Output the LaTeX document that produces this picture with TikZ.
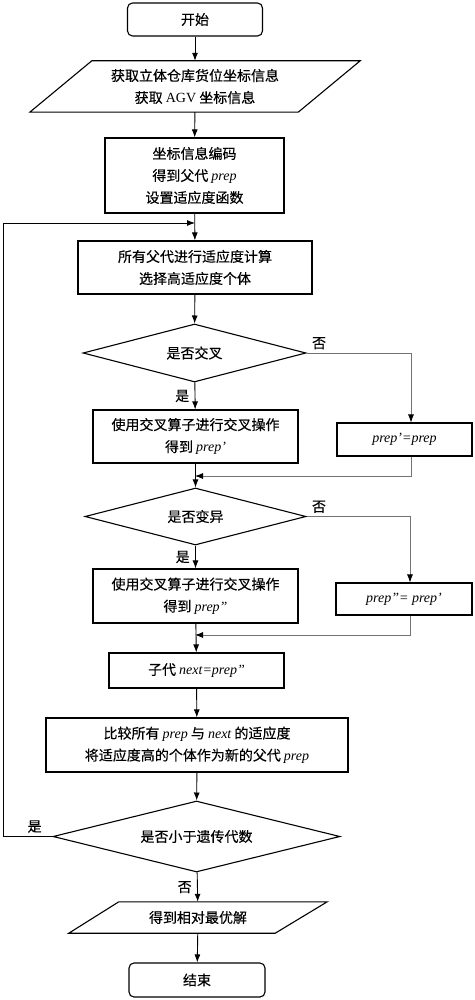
\documentclass[tikz,border=0pt]{standalone}
\usepackage{fontspec}
\setmainfont{Liberation Serif}
\newfontfamily\cjk{Noto Sans CJK SC}[FakeBold=0.3]
\usetikzlibrary{arrows.meta,shapes.geometric}
\newcommand{\var}[1]{{\normalfont\itshape #1}}

\begin{document}
\begin{tikzpicture}[x=1pt, y=-1pt,
  >={Latex[length=8pt,width=6pt]},
  every node/.style={font=\cjk\fontsize{14}{22}\selectfont},
  flow/.style={draw=black, line width=1.1pt},
  terminal/.style={flow, rounded corners=5pt, minimum width=135pt, minimum height=33pt},
  process/.style={flow, align=center, inner sep=2pt},
  io/.style={align=center, inner sep=1pt},
  decision/.style={flow, diamond, aspect=4, inner sep=0pt},
  line/.style={->, line width=0.9pt},
  branch/.style={-{Latex[length=8pt,width=6pt,color=black]}, draw=black!55, line width=0.8pt}
]
\useasboundingbox (0,0) rectangle (474,1000);

% main column
\node[terminal] (start) at (195,19.5) {开始};
\node[io, minimum width=330pt, minimum height=51pt] (input) at (195,86.5)
  {获取立体仓库货位坐标信息\\获取 {\normalfont AGV} 坐标信息};
\node[process, minimum width=179pt, minimum height=75pt] (code) at (194.5,175.5)
  {坐标信息编码\\得到父代 \var{prep}\\设置适应度函数};
\node[process, minimum width=234pt, minimum height=53pt] (fitness) at (195,267.5)
  {所有父代进行适应度计算\\选择高适应度个体};
\node[decision, minimum width=223pt, minimum height=58pt] (cross) at (194.5,353) {是否交叉};
\node[process, minimum width=205pt, minimum height=53pt] (crossop) at (195.5,436.5)
  {使用交叉算子进行交叉操作\\得到 \var{prep'}};
\node[process, minimum width=135pt, minimum height=33pt] (keep1) at (404.5,439.5)
  {\var{prep'=prep}};
\node[decision, minimum width=221pt, minimum height=57pt] (mutate) at (195.5,516.5) {是否变异};
\node[process, minimum width=205pt, minimum height=54pt] (mutop) at (195.5,596)
  {使用交叉算子进行交叉操作\\得到 \var{prep''}};
\node[process, minimum width=136pt, minimum height=32pt] (keep2) at (404,599)
  {\var{prep''= prep'}};
\node[process, minimum width=175pt, minimum height=35pt] (child) at (196.5,670.5)
  {子代 \var{next=prep''}};
\node[process, minimum width=302pt, minimum height=54pt] (compare) at (197,745)
  {比较所有 \var{prep} 与 \var{next} 的适应度\\将适应度高的个体作为新的父代 \var{prep}};
\node[decision, minimum width=287pt, minimum height=71pt] (check) at (196.5,836.5) {是否小于遗传代数};
\node[io, minimum width=258pt, minimum height=31pt] (result) at (198,917.5) {得到相对最优解};
\node[terminal, minimum width=136pt, minimum height=34pt] (stop) at (197,980) {结束};

% slanted input/output boxes
\draw[flow] ([xshift=62pt]input.north west) -- (input.north east)
  -- ([xshift=-62pt]input.south east) -- (input.south west) -- cycle;
\draw[flow] ([xshift=50pt]result.north west) -- (result.north east)
  -- ([xshift=-52pt]result.south east) -- (result.south west) -- cycle;

% joints
\coordinate (loopin) at (195,223);
\coordinate (loopside) at (3,223);
\coordinate (join1) at (195,476);
\coordinate (join2) at (195,635);

\draw[line] (start) -- (input);
\draw[line] (input) -- (code);
\draw[line] (code) -- (fitness);
\draw[line] (fitness) -- (cross);
\draw[line] (cross) -- node[left, xshift=-2pt] {是} (crossop);
\draw[branch] (cross.east) -| node[pos=0.06, above] {否} ([xshift=6.5pt]keep1.north);
\draw[branch] ([xshift=6.5pt]keep1.south) |- (join1);
\draw[line] (crossop) -- (mutate);
\draw[line] (mutate) -- node[left, xshift=-2pt] {是} (mutop);
\draw[branch] (mutate.east) -| node[pos=0.06, above] {否} ([xshift=6pt]keep2.north);
\draw[branch] ([xshift=6pt]keep2.south) |- (join2);
\draw[line] (mutop) -- (child);
\draw[line] (child) -- (compare);
\draw[line] (compare) -- (check);
\draw[line] (check.west) -| node[pos=0.18, above] {是} (loopside) -- (loopin);
\draw[line] (check) -- node[left, xshift=-2pt] {否} (result);
\draw[line] (result) -- (stop);
\end{tikzpicture}
\end{document}
